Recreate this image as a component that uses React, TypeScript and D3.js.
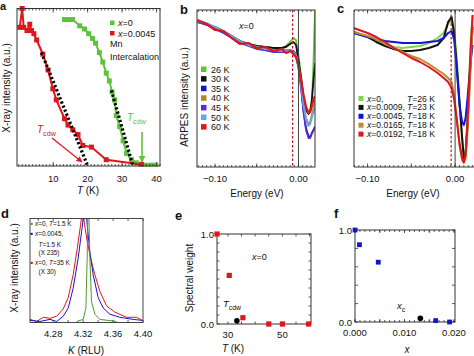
import React from "react";
import * as d3 from "d3";

const F = "'Liberation Sans', Arial, Helvetica, sans-serif";

// ---------------- Panel a ----------------
const aGreenT = [13.3, 14.6, 15.6, 17.7, 19.1, 20.3, 21.4, 22.3, 23.4, 24.4, 25.4, 26.3, 27.1, 27.8, 28.3, 29.3, 30.3, 31.3, 32.7, 34.1, 35.5, 36.9, 38.4, 39.8];
const aGreenI = [0.93, 0.93, 0.93, 0.89, 0.87, 0.84, 0.81, 0.78, 0.72, 0.66, 0.59, 0.54, 0.47, 0.42, 0.32, 0.25, 0.16, 0.08, 0.04, 0.02, 0.01, 0.005, 0.005, 0.005];
const aRedT = [0.3, 1.0, 1.45, 2.4, 3.2, 3.7, 4.4, 5.2, 7.0, 8.5, 9.9, 10.9, 13.3, 14.3, 15.7, 17.2, 18.6, 21.1, 25.4, 35.6];
const aRedI = [0.88, 1.0, 0.88, 0.86, 0.9, 0.86, 0.84, 0.8, 0.71, 0.61, 0.49, 0.42, 0.3, 0.26, 0.23, 0.2, 0.13, 0.12, 0.04, 0.01];
const aFitRedT = [6.6, 20.1];
const aFitRedI = [0.72, -0.004];
const aFitGreenT = [26.9, 33.2];
const aFitGreenI = [0.48, -0.004];
const aTickLabels = [10, 20, 30, 40];

// ---------------- Panel b ----------------
const bEnergy = [-0.121, -0.11, -0.1, -0.09, -0.08, -0.07, -0.06, -0.05, -0.04, -0.03, -0.02, -0.015, -0.01, -0.006, -0.003, 0, 0.003, 0.006, 0.009, 0.012, 0.014, 0.016, 0.018, 0.02];
const b26K = [145, 143, 140, 136, 131, 126, 123, 121, 120, 119, 119, 121, 125, 129, 127, 112, 92, 72, 60, 55, 55, 62, 105, 160];
const b30K = [145, 143, 140, 136, 131, 126, 123, 121, 120, 119, 119, 120, 123, 125, 122, 107, 89, 70, 57, 53, 56, 67, 87, 104];
const b35K = [146, 143, 139, 135, 130, 125, 122, 119, 117, 116, 116, 116, 117, 116, 113, 102, 82, 57, 39, 31, 30, 34, 37, 40];
const b40K = [145, 142, 139, 135, 130, 125, 122, 120, 118, 117, 117, 117, 117, 115, 112, 101, 84, 64, 49, 43, 45, 52, 59, 67];
const b45K = [145, 142, 138, 134, 129, 124, 121, 118, 117, 115, 115, 115, 116, 115, 111, 99, 79, 55, 37, 29, 29, 33, 37, 41];
const b50K = [146, 144, 140, 136, 131, 126, 122, 120, 118, 117, 116, 116, 116, 115, 112, 101, 83, 62, 47, 41, 43, 49, 55, 59];
const b60K = [147, 143, 137, 136, 129, 123, 124, 119, 120, 116, 118, 114, 116, 113, 110, 102, 87, 72, 60, 54, 55, 61, 68, 71];
const bLabels = ["26 K", "30 K", "35 K", "40 K", "45 K", "50 K", "60 K"];
const bColors = ["#5ec23c", "#111111", "#1212d6", "#b8862e", "#5a2ec8", "#62a9ea", "#e0151d"];

// ---------------- Panel c ----------------
const cEnergy = [-0.116, -0.1, -0.09, -0.08, -0.07, -0.06, -0.05, -0.04, -0.03, -0.02, -0.013, -0.008, -0.004, -0.001, 0.002, 0.005, 0.008, 0.01, 0.012, 0.014, 0.016, 0.018, 0.02];
const cX0 = [134, 131, 127, 123, 120, 119, 120, 121, 124, 129, 134, 143, 147, 137, 107, 67, 27, 12, 17, 47, 87, 127, 152];
const cX0009 = [135, 130, 125, 121, 118, 116, 116, 117, 119, 122, 129, 145, 150, 132, 100, 65, 30, 8, 12, 40, 75, 110, 140];
const cX0045 = [134, 130, 128, 126, 125, 124, 124, 124, 125, 126, 129, 134, 136, 127, 97, 62, 45, 42, 49, 67, 87, 107, 122];
const cX0165 = [135, 131, 128, 123, 119, 115, 111, 108, 103, 97, 93, 89, 85, 72, 47, 22, 7, 4, 9, 32, 67, 107, 142];
const cX0192 = [139, 134, 130, 125, 119, 114, 109, 105, 100, 94, 89, 85, 79, 67, 47, 24, 9, 5, 12, 42, 82, 122, 152];
const cLabelsX = ["x=0,", "x=0.0009,", "x=0.0045,", "x=0.0165,", "x=0.0192,"];
const cLabelsT = ["T=26 K", "T=23 K", "T=18 K", "T=18 K", "T=18 K"];
const cColors = ["#7ad64e", "#111111", "#1414d8", "#c08a30", "#e0151d"];

// ---------------- Panel d ----------------
const dGreenK = [4.3113, 4.3201, 4.3237, 4.3254, 4.3268, 4.329, 4.3312, 4.3357, 4.3423, 4.3646];
const dGreenI = [0.01, 0.03, 0.14, 0.62, 1.3, 0.62, 0.2, 0.08, 0.03, 0.01];
const dBlueK = [4.249, 4.2623, 4.2757, 4.2846, 4.2934, 4.3001, 4.3067, 4.3134, 4.3179, 4.321, 4.3232, 4.3254, 4.329, 4.3334, 4.3401, 4.3467, 4.3557, 4.369, 4.3868, 4.3993];
const dBlueI = [0.02, 0.01, 0.03, 0.01, 0.06, 0.14, 0.33, 0.62, 0.87, 1.05, 1.15, 0.94, 0.68, 0.46, 0.24, 0.14, 0.08, 0.05, 0.03, 0.02];
const dRedK = [4.249, 4.2579, 4.2668, 4.2757, 4.2846, 4.2934, 4.3001, 4.3067, 4.3121, 4.3166, 4.3193, 4.3219, 4.3254, 4.3299, 4.3357, 4.3423, 4.3513, 4.3623, 4.3779, 4.3913, 4.3993];
const dRedI = [0.03, 0.01, 0.05, 0.04, 0.06, 0.13, 0.24, 0.46, 0.71, 0.94, 1.1, 0.94, 0.78, 0.62, 0.46, 0.3, 0.16, 0.1, 0.05, 0.05, 0.02];
const dTickLabels = [4.28, 4.32, 4.36, 4.4];

// ---------------- Panel e ----------------
const eT = [26, 30.5, 35.5, 45, 50, 59.6];
const eW = [1.0, 0.54, 0.07, 0.0, 0.0, 0.0];
const eTcdw = [33.3];
const eTcdwW = [0.035];
const eTickLabels = [30, 50];

// ---------------- Panel f ----------------
const fX = [0, 0.0009, 0.0047, 0.0163, 0.0191];
const fW = [1.0, 0.84, 0.65, 0.015, 0.0];
const fXc = [0.0132];
const fXcW = [0.04];
const fTickLabels = [0, 0.01, 0.02];

const steps = (a: number, b: number, s: number) => {
  const out: number[] = [];
  for (let i = 0; a + i * s <= b + 1e-9; i++) out.push(+(a + i * s).toFixed(6));
  return out;
};

const AX = "#333";

function HTicks({ s, vals, yb, yt, len }: any) {
  return (
    <g stroke={AX} strokeWidth={0.8}>
      {vals.map((v: number, i: number) => (
        <g key={i}>
          <line x1={s(v)} x2={s(v)} y1={yb} y2={yb - len} />
          <line x1={s(v)} x2={s(v)} y1={yt} y2={yt + len} />
        </g>
      ))}
    </g>
  );
}
function VTicks({ s, vals, xl, xr, len }: any) {
  return (
    <g stroke={AX} strokeWidth={0.8}>
      {vals.map((v: number, i: number) => (
        <g key={i}>
          <line y1={s(v)} y2={s(v)} x1={xl} x2={xl + len} />
          <line y1={s(v)} y2={s(v)} x1={xr} x2={xr - len} />
        </g>
      ))}
    </g>
  );
}

const Tcdw = ({ x, y, fill, size = 10 }: any) => (
  <text x={x} y={y} fill={fill} fontSize={size} fontFamily={F}>
    <tspan fontStyle="italic">T</tspan>
    <tspan fontSize={size * 0.72} dy={2.5}>cdw</tspan>
  </text>
);

export default function App() {
  const xA = d3.scaleLinear().domain([-0.5, 41]).range([17, 160]);
  const yA = d3.scaleLinear().domain([0, 1]).range([166, 8.5]);
  const xB = d3.scaleLinear().domain([-0.1216, 0.0198]).range([197, 315]);
  const yB = d3.scaleLinear().domain([0, 157]).range([167, 10]);
  const xC = d3.scaleLinear().domain([-0.1155, 0.0216]).range([354, 474]);
  const yC = yB;
  const xD = d3.scaleLinear().domain([4.249, 4.4]).range([30, 143]);
  const yD = d3.scaleLinear().domain([0, 1]).range([322.5, 218.5]);
  const xE = d3.scaleLinear().domain([26, 60.5]).range([217, 311]);
  const yE = d3.scaleLinear().domain([0, 1]).range([324, 234]);
  const xF = d3.scaleLinear().domain([0, 0.0202]).range([355, 455]);
  const yF = d3.scaleLinear().domain([0, 1]).range([322, 230]);

  const lineFrom = (xs: number[], ys: number[], sx: any, sy: any) =>
    d3.line<number>().x((_, i) => sx(xs[i])).y((_, i) => sy(ys[i]))(ys) || "";

  const bSeries = [b26K, b30K, b35K, b40K, b45K, b50K, b60K];
  const cSeries = [cX0, cX0009, cX0045, cX0165, cX0192];

  const tl = { fontFamily: F, fontSize: 9.5, fill: "#111" } as any;
  const title = { fontFamily: F, fontSize: 10, fill: "#111" } as any;
  const letter = { fontFamily: F, fontSize: 13, fontWeight: "bold", fill: "#111" } as any;

  return (
    <svg width={474} height={356} style={{ position: "absolute", left: 0, top: 0, background: "#fff" }}>
      <defs>
        <clipPath id="clipA"><rect x={17} y={5} width={143} height={161.5} /></clipPath>
        <clipPath id="clipB"><rect x={197} y={10} width={118} height={157} /></clipPath>
        <clipPath id="clipC"><rect x={354} y={10} width={120} height={157} /></clipPath>
        <clipPath id="clipD"><rect x={30} y={218.5} width={113} height={104} /></clipPath>
        <marker id="arrRed" viewBox="0 0 10 10" refX={9} refY={5} markerWidth={6} markerHeight={6} orient="auto" markerUnits="userSpaceOnUse">
          <path d="M0,0 L10,5 L0,10 z" fill="#e0151d" />
        </marker>
        <marker id="arrGreen" viewBox="0 0 10 10" refX={9} refY={5} markerWidth={7} markerHeight={7} orient="auto" markerUnits="userSpaceOnUse">
          <path d="M0,0 L10,5 L0,10 z" fill="#5ec23c" />
        </marker>
      </defs>

      {/* ================= Panel a ================= */}
      <text x={0} y={10} {...letter} fontSize={11}>a</text>
      <g clipPath="url(#clipA)">
        <path d={lineFrom(aGreenT, aGreenI, xA, yA)} fill="none" stroke="#5ec23c" strokeWidth={2} />
        {aGreenT.map((t, i) => (
          <rect key={i} x={xA(t) - 2.5} y={yA(aGreenI[i]) - 2.5} width={5} height={5} fill="#5ec23c" />
        ))}
        <path d={lineFrom(aRedT, aRedI, xA, yA)} fill="none" stroke="#e0151d" strokeWidth={2} />
        {aRedT.map((t, i) => (
          <rect key={i} x={xA(t) - 2.5} y={yA(aRedI[i]) - 2.5} width={5} height={5} fill="#e0151d" />
        ))}
        <path d={lineFrom(aFitRedT, aFitRedI, xA, yA)} stroke="#000" strokeWidth={3.2} strokeDasharray="2.2 2.2" fill="none" />
        <path d={lineFrom(aFitGreenT, aFitGreenI, xA, yA)} stroke="#000" strokeWidth={3.2} strokeDasharray="2.2 2.2" fill="none" />
      </g>
      <rect x={17} y={8.5} width={143} height={157.5} fill="none" stroke={AX} strokeWidth={1} />
      <HTicks s={xA} vals={steps(0, 41, 1)} yb={166} yt={8.5} len={2} />
      <HTicks s={xA} vals={aTickLabels} yb={166} yt={8.5} len={4} />
      {aTickLabels.map((t) => (
        <text key={t} x={xA(t)} y={182} textAnchor="middle" {...tl}>{t}</text>
      ))}
      <text x={88} y={194} textAnchor="middle" {...title}>
        <tspan fontStyle="italic">T</tspan> (K)
      </text>
      <text transform="translate(10,88) rotate(-90)" textAnchor="middle" {...title}>X-ray intensity (a.u.)</text>
      <rect x={110} y={20.5} width={4.5} height={4.5} fill="#5ec23c" />
      <text x={118} y={26} fontFamily={F} fontSize={9} fill="#111"><tspan fontStyle="italic">x</tspan>=0</text>
      <rect x={110} y={31} width={4.5} height={4.5} fill="#e0151d" />
      <text x={118} y={36.5} fontFamily={F} fontSize={9} fill="#111"><tspan fontStyle="italic">x</tspan>=0.0045</text>
      <text x={110} y={47} fontFamily={F} fontSize={9} fill="#111">Mn</text>
      <text x={110} y={60} fontFamily={F} fontSize={9} fill="#111">Intercalation</text>
      <Tcdw x={37} y={133} fill="#e0151d" size={10} />
      <line x1={52} y1={138} x2={82} y2={162} stroke="#e0151d" strokeWidth={1.3} markerEnd="url(#arrRed)" />
      <Tcdw x={127} y={121} fill="#5ec23c" size={10} />
      <line x1={142} y1={132} x2={142} y2={162} stroke="#5ec23c" strokeWidth={1.6} markerEnd="url(#arrGreen)" />

      {/* ================= Panel b ================= */}
      <text x={180} y={14} {...letter}>b</text>
      <g clipPath="url(#clipB)">
        {bSeries.map((s, k) => (
          <path key={k} d={lineFrom(bEnergy, s, xB, yB)} fill="none" stroke={bColors[k]} strokeWidth={k === 6 ? 2.2 : 1.8} strokeLinejoin="round" />
        ))}
        <line x1={xB(-0.007)} x2={xB(-0.007)} y1={10} y2={167} stroke="#c0141c" strokeWidth={1.2} strokeDasharray="2.5 2" />
        <line x1={xB(0)} x2={xB(0)} y1={10} y2={167} stroke="#444" strokeWidth={1} />
      </g>
      <rect x={197} y={10} width={118} height={157} fill="none" stroke={AX} strokeWidth={1} />
      <HTicks s={xB} vals={steps(-0.12, 0.015, 0.005)} yb={167} yt={10} len={2} />
      <HTicks s={xB} vals={[-0.1, -0.05, 0]} yb={167} yt={10} len={3.5} />
      {[-0.1, 0].map((t) => (
        <text key={t} x={xB(t)} y={182} textAnchor="middle" {...tl}>{t === 0 ? "0.00" : "\u22120.10"}</text>
      ))}
      <text x={257} y={197} textAnchor="middle" {...title}>Energy (eV)</text>
      <text transform="translate(188,97) rotate(-90)" textAnchor="middle" {...title}>ARPES intensity (a.u.)</text>
      <text x={239} y={29} fontFamily={F} fontSize={9} fill="#111"><tspan fontStyle="italic">x</tspan>=0</text>
      {bLabels.map((lab, k) => (
        <g key={k}>
          <rect x={201} y={66.5 + k * 9.6} width={5.5} height={5.5} fill={bColors[k]} />
          <text x={211} y={72.5 + k * 9.6} fontFamily={F} fontSize={9} fill="#111">{lab}</text>
        </g>
      ))}

      {/* ================= Panel c ================= */}
      <text x={337} y={13} {...letter}>c</text>
      <g clipPath="url(#clipC)">
        {cSeries.map((s, k) => (
          <path key={k} d={lineFrom(cEnergy, s, xC, yC)} fill="none" stroke={cColors[k]} strokeWidth={2} strokeLinejoin="round" />
        ))}
        <line x1={xC(-0.0045)} x2={xC(-0.0045)} y1={10} y2={167} stroke="#c0141c" strokeWidth={1.2} strokeDasharray="2.5 2" />
        <line x1={xC(0)} x2={xC(0)} y1={10} y2={167} stroke="#444" strokeWidth={1} />
      </g>
      <path d="M474,10 H354 V167 H474" fill="none" stroke={AX} strokeWidth={1} />
      <HTicks s={xC} vals={steps(-0.115, 0.02, 0.005)} yb={167} yt={10} len={2} />
      <HTicks s={xC} vals={[-0.1, -0.05, 0]} yb={167} yt={10} len={3.5} />
      {[-0.1, 0].map((t) => (
        <text key={t} x={xC(t)} y={182} textAnchor="middle" {...tl}>{t === 0 ? "0.00" : "\u22120.10"}</text>
      ))}
      <text x={413} y={197} textAnchor="middle" {...title}>Energy (eV)</text>
      {cLabelsX.map((lab, k) => (
        <g key={k}>
          <rect x={358.5} y={96 + k * 8.9} width={5} height={5} fill={cColors[k]} />
          <text x={367} y={101.5 + k * 8.9} fontFamily={F} fontSize={8.6} fill="#111">
            <tspan fontStyle="italic">x</tspan>{lab.slice(1)}
          </text>
          <text x={407} y={101.5 + k * 8.9} fontFamily={F} fontSize={8.6} fill="#111">
            <tspan fontStyle="italic">T</tspan>{cLabelsT[k].slice(1)}
          </text>
        </g>
      ))}

      {/* ================= Panel d ================= */}
      <text x={1} y={218} {...letter}>d</text>
      <g clipPath="url(#clipD)">
        <path d={lineFrom(dRedK, dRedI, xD, yD)} fill="none" stroke="#e0151d" strokeWidth={1} />
        <path d={lineFrom(dBlueK, dBlueI, xD, yD)} fill="none" stroke="#1414d8" strokeWidth={1} />
        <path d={lineFrom(dGreenK, dGreenI, xD, yD)} fill="none" stroke="#4f9a2e" strokeWidth={1} />
      </g>
      <rect x={30} y={218.5} width={113} height={104} fill="none" stroke={AX} strokeWidth={0.9} />
      <HTicks s={xD} vals={steps(4.26, 4.4, 0.02)} yb={322.5} yt={218.5} len={2.5} />
      {dTickLabels.map((t) => (
        <text key={t} x={xD(t)} y={337} textAnchor="middle" {...tl}>{t.toFixed(2)}</text>
      ))}
      <text x={86} y={354} textAnchor="middle" {...title}>
        <tspan fontStyle="italic">K</tspan> (RLU)
      </text>
      <text transform="translate(18,268) rotate(-90)" textAnchor="middle" {...title}>X-ray intensity (a.u.)</text>
      <rect x={30.5} y={222.8} width={2.2} height={2.2} fill="#4f9a2e" />
      <text x={35} y={226.3} fontFamily={F} fontSize={6.4} fill="#111"><tspan fontStyle="italic">x</tspan>=0, <tspan fontStyle="italic">T</tspan>=1.5 K</text>
      <rect x={30.5} y={232.8} width={2.2} height={2.2} fill="#1414d8" />
      <text x={35} y={236.3} fontFamily={F} fontSize={6.4} fill="#111"><tspan fontStyle="italic">x</tspan>=0.0045,</text>
      <text x={38.5} y={246.5} fontFamily={F} fontSize={6.4} fill="#111"><tspan fontStyle="italic">T</tspan>=1.5 K</text>
      <text x={38.5} y={255} fontFamily={F} fontSize={6.4} fill="#111">(X 235)</text>
      <rect x={30.5} y={261.8} width={2.2} height={2.2} fill="#e0151d" />
      <text x={35} y={265.3} fontFamily={F} fontSize={6.4} fill="#111"><tspan fontStyle="italic">x</tspan>=0, <tspan fontStyle="italic">T</tspan>=35 K</text>
      <text x={38.5} y={274} fontFamily={F} fontSize={6.4} fill="#111">(X 30)</text>

      {/* ================= Panel e ================= */}
      <text x={175} y={220} {...letter}>e</text>
      <rect x={217} y={234} width={94} height={90} fill="none" stroke={AX} strokeWidth={1} />
      <HTicks s={xE} vals={steps(30, 60, 5)} yb={324} yt={234} len={2.5} />
      <VTicks s={yE} vals={steps(0, 1, 0.1)} xl={217} xr={311} len={2.5} />
      {eTickLabels.map((t) => (
        <text key={t} x={xE(t)} y={338} textAnchor="middle" {...tl}>{t}</text>
      ))}
      {[0, 1].map((t) => (
        <text key={t} x={214} y={yE(t) + 3.5} textAnchor="end" {...tl}>{t.toFixed(1)}</text>
      ))}
      <text x={233} y={352} textAnchor="middle" {...title}>
        <tspan fontStyle="italic">T</tspan> (K)
      </text>
      <text transform="translate(193,278) rotate(-90)" textAnchor="middle" {...title}>Spectral weight</text>
      <text x={252} y={260} fontFamily={F} fontSize={9} fill="#111"><tspan fontStyle="italic">x</tspan>=0</text>
      <Tcdw x={223} y={307} fill="#111" size={9.5} />
      {eTcdw.map((t, i) => (
        <circle key={i} cx={xE(t)} cy={yE(eTcdwW[i])} r={2.8} fill="#000" />
      ))}
      {eT.map((t, i) => (
        <rect key={i} x={xE(t) - 2.6} y={yE(eW[i]) - 2.6} width={5.2} height={5.2} fill="#e0151d" />
      ))}

      {/* ================= Panel f ================= */}
      <text x={334} y={218} {...letter}>f</text>
      <rect x={355} y={230} width={100} height={92} fill="none" stroke={AX} strokeWidth={1} />
      <HTicks s={xF} vals={steps(0, 0.02, 0.001)} yb={322} yt={230} len={2} />
      <HTicks s={xF} vals={[0, 0.005, 0.01, 0.015, 0.02]} yb={322} yt={230} len={3} />
      <VTicks s={yF} vals={steps(0, 1, 0.2)} xl={355} xr={455} len={3} />
      {fTickLabels.map((t) => (
        <text key={t} x={xF(t)} y={336} textAnchor="middle" {...tl}>{t.toFixed(3)}</text>
      ))}
      {[0, 1].map((t) => (
        <text key={t} x={352} y={yF(t) + 3.5} textAnchor="end" {...tl}>{t.toFixed(1)}</text>
      ))}
      <text x={407} y={353} textAnchor="middle" {...title} fontStyle="italic">x</text>
      <text x={397} y={309} fontFamily={F} fontSize={9.5} fill="#111">
        <tspan fontStyle="italic">x</tspan>
        <tspan fontSize={7} dy={2.5}>c</tspan>
      </text>
      {fXc.map((t, i) => (
        <circle key={i} cx={xF(t)} cy={yF(fXcW[i])} r={2.8} fill="#000" />
      ))}
      {fX.map((t, i) => (
        <rect key={i} x={xF(t) - 2.4} y={yF(fW[i]) - 2.4} width={4.8} height={4.8} fill="#1414c8" />
      ))}
    </svg>
  );
}
